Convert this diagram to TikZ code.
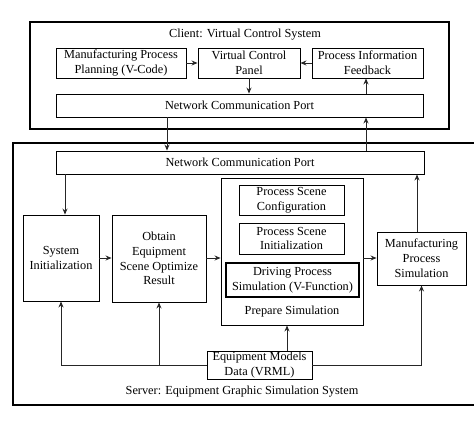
\documentclass[tikz,border=0pt]{standalone}
\usepackage{fontspec}
\setmainfont{Liberation Serif}
\usetikzlibrary{arrows.meta}
\begin{document}
\begin{tikzpicture}[x=1pt,y=-1pt,
  bx/.style={draw=black,line width=0.9pt,inner sep=0pt,align=center,font=\fontsize{12.3}{14.8}\selectfont},
  outer/.style={draw=black,line width=1.2pt,inner sep=0pt},
  lbl/.style={inner sep=0pt,font=\fontsize{12.3}{14.8}\selectfont},
  arr/.style={draw=black!85,line width=0.9pt,-{Stealth[length=6pt,width=5pt]}},
  ln/.style={draw=black!85,line width=0.9pt}]
\useasboundingbox (0,0) rectangle (474,429);
\clip (0,0) rectangle (474,429);
% client
\node[outer,minimum width=419pt,minimum height=107pt] (client) at (239.5,75.5) {};
\node[lbl] (clientlbl) at (245,35) {Client: Virtual Control System};
\node[bx,minimum width=130pt,minimum height=30pt] (mpp) at (121,63) {Manufacturing Process\\Planning (V-Code)};
\node[bx,minimum width=102pt,minimum height=30pt] (vcp) at (249,63) {Virtual Control\\Panel};
\node[bx,minimum width=111pt,minimum height=30pt] (pif) at (367.5,63) {Process Information\\Feedback};
\node[bx,minimum width=367pt,minimum height=23pt] (ncp1) at (239.5,105.5) {Network Communication Port};
% server
\node[outer,minimum width=467pt,minimum height=262pt] (server) at (246.5,274) {};
\node[bx,minimum width=368pt,minimum height=23pt] (ncp2) at (240,162.5) {Network Communication Port};
\node[bx,minimum width=76pt,minimum height=86pt] (sys) at (61,258) {System\\Initialization};
\node[bx,minimum width=94pt,minimum height=87pt] (obt) at (159,258.5) {Obtain\\Equipment\\Scene Optimize\\Result};
\node[bx,minimum width=142pt,minimum height=147pt] (prep) at (292,251.5) {};
\node[bx,minimum width=105pt,minimum height=30pt] (psc) at (291.5,200) {Process Scene\\Configuration};
\node[bx,minimum width=105pt,minimum height=31pt] (psi) at (291.5,238.5) {Process Scene\\Initialization};
\node[bx,line width=1.6pt,minimum width=133pt,minimum height=34pt] (drv) at (292.5,280) {Driving Process\\Simulation (V-Function)};
\node[lbl] (preplbl) at (292,312) {Prepare Simulation};
\node[bx,minimum width=89pt,minimum height=53pt] (mps) at (421.5,258.5) {Manufacturing\\Process\\Simulation};
\node[bx,minimum width=105pt,minimum height=28pt] (emd) at (259.5,365) {Equipment Models\\Data (VRML)};
\node[lbl] (serverlbl) at (242,392) {Server: Equipment Graphic Simulation System};
% client arrows
\draw[arr] (mpp.east) -- (vcp.west);
\draw[arr] (pif.west) -- (vcp.east);
\draw[arr] (vcp.south) -- (vcp.south |- ncp1.north);
\draw[arr] ([xshift=-1.5pt]pif.south |- ncp1.north) -- ([xshift=-1.5pt]pif.south);
% between
\draw[arr] ([xshift=-72.5pt]ncp1.south) -- ([xshift=-72.5pt]ncp1.south |- ncp2.north);
\draw[arr] ([xshift=-1.5pt]pif.south |- ncp2.north) -- ([xshift=-1.5pt]pif.south |- ncp1.south);
% server arrows
\draw[arr] ([xshift=4pt]sys.north |- ncp2.south) -- ([xshift=4pt]sys.north);
\draw[arr] (sys.east) -- (sys.east -| obt.west);
\draw[arr] (obt.east |- sys.east) -- (sys.east -| prep.west);
\draw[arr] (prep.east |- sys.east) -- (sys.east -| mps.west);
\draw[arr] ([xshift=-4.5pt]mps.north) -- ([xshift=-4.5pt]mps.north |- ncp2.south);
\draw[ln] (emd.west) -- (emd.west -| sys.south);
\draw[arr] (emd.west -| sys.south) -- (sys.south);
\draw[arr] (emd.west -| obt.south) -- (obt.south);
\draw[ln] (emd.east) -- (emd.east -| mps.south);
\draw[arr] (emd.east -| mps.south) -- (mps.south);
\draw[arr] ([xshift=27.5pt]emd.north) -- ([xshift=27.5pt]emd.north |- prep.south);
\end{tikzpicture}
\end{document}
